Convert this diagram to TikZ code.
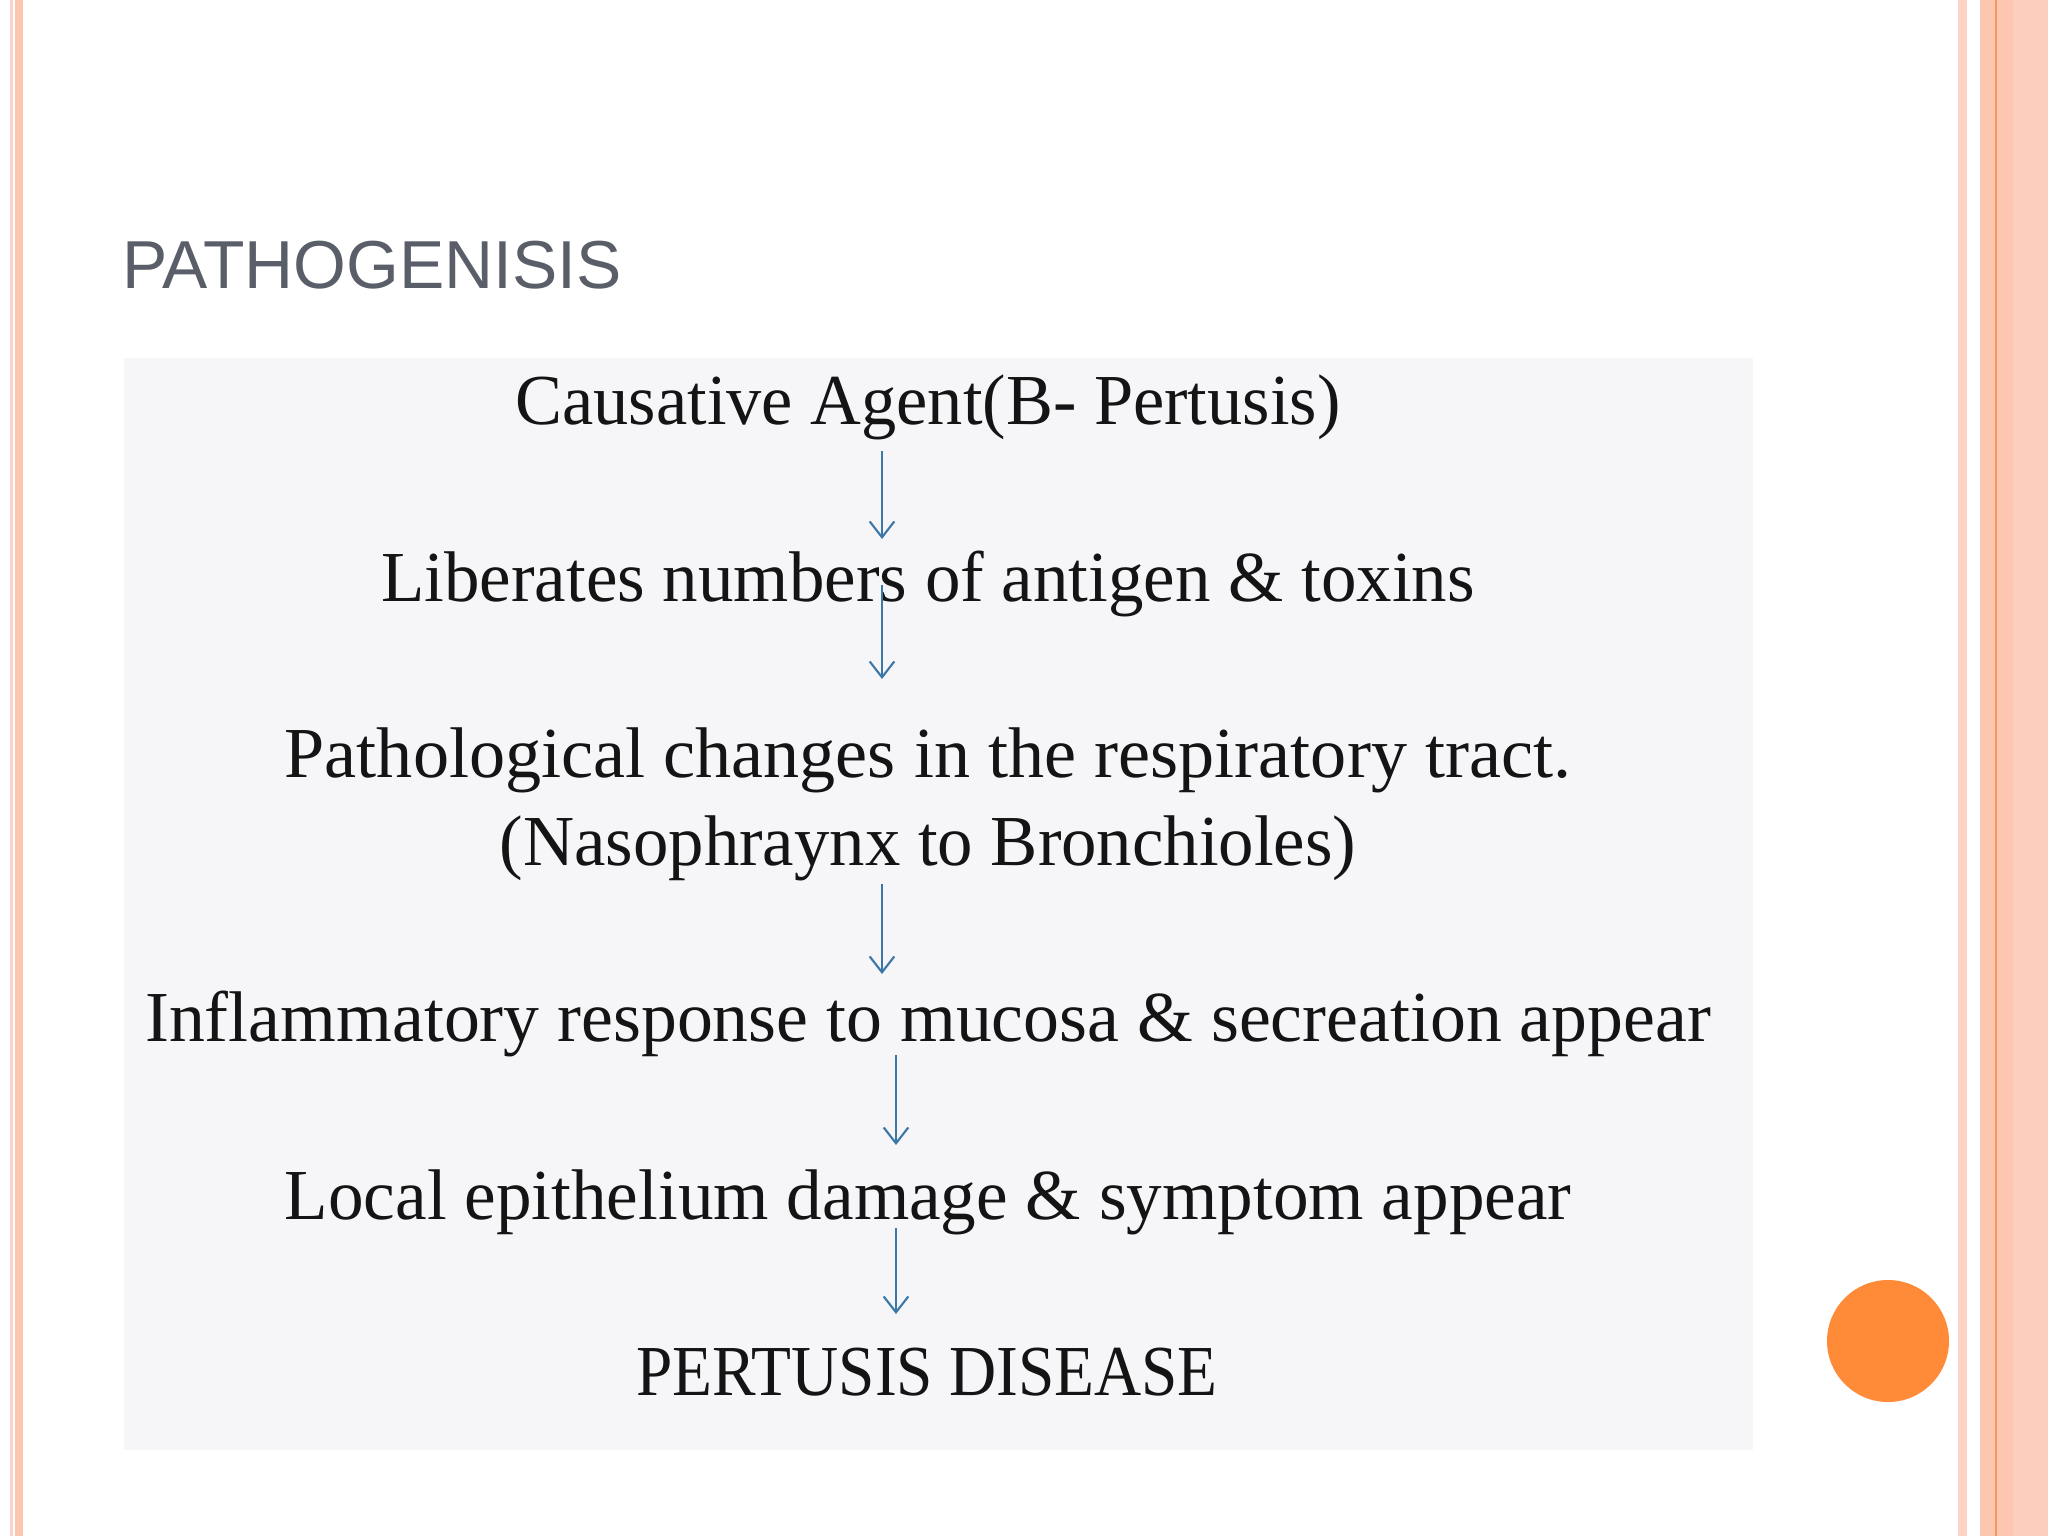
\documentclass[tikz,border=0pt]{standalone}
\usepackage{fontspec}
\usepackage{graphicx}
\setmainfont{Liberation Serif}
\newfontfamily\titlefont{Liberation Sans}
\usetikzlibrary{arrows.meta}
\definecolor{stripeA}{HTML}{FDC6B1}
\definecolor{stripeB}{HTML}{FBD4C6}
\definecolor{stripeLine}{HTML}{F5985E}
\definecolor{dotorange}{HTML}{FF8A38}
\definecolor{boxgray}{HTML}{F6F5F8}
\definecolor{titlegray}{HTML}{5A5E69}
\definecolor{arrowblue}{HTML}{3B78A8}
\newcommand{\hsq}[2]{\scalebox{#1}[1]{#2}}
\tikzset{
  steptext/.style={anchor=base, inner sep=0pt, text=black!92, font=\fontsize{20.4pt}{25pt}\selectfont, align=center},
  flowarrow/.style={draw=arrowblue, line width=0.6pt, -{Straight Barb[length=4.5pt,width=7pt]}}
}
\begin{document}
\begin{tikzpicture}[x=0.01cm, y=-0.01cm]
\useasboundingbox (0,0) rectangle (2048,1536);
\fill[white] (0,0) rectangle (2048,1536);
% borders
\fill[stripeB] (10,0) rectangle (13,1536);
\fill[stripeA] (15,0) rectangle (23,1536);
\fill[stripeB] (1958,0) rectangle (1967,1536);
\fill[stripeA] (1980,0) rectangle (2048,1536);
\fill[stripeB!60!stripeA] (2013,0) rectangle (2048,1536);
\fill[stripeLine] (1995,0) rectangle (1997,1536);
% dot
\fill[dotorange] (1888,1341) circle (61);
% title
\node[anchor=base west, inner sep=0pt, text=titlegray, font=\titlefont\fontsize{19.3pt}{22pt}\selectfont] (title) at (122,288) {PATHOGENISIS};
% box
\fill[boxgray] (124,358) rectangle (1753,1450);
% steps
\node[steptext] (n1) at (928,424) {\hsq{0.981}{Causative Agent(B- Pertusis)}};
\node[steptext] (n2) at (928,601) {\hsq{0.989}{Liberates numbers of antigen \& toxins}};
\node[steptext] (n3) at (928,777) {\hsq{1.006}{Pathological changes in the respiratory tract.}};
\node[steptext] (n3b) at (928,865) {\hsq{0.986}{(Nasophraynx to Bronchioles)}};
\node[steptext] (n4) at (928,1041) {Inflammatory response to mucosa \& secreation appear};
\node[steptext] (n5) at (928,1219) {\hsq{0.992}{Local epithelium damage \& symptom appear}};
\node[steptext] (n6) at (927,1395) {\hsq{0.91}{PERTUSIS DISEASE}};
% arrow ends
\coordinate (a1s) at (882,451); \coordinate (a1e) at (882,539);
\coordinate (a2s) at (882,585); \coordinate (a2e) at (882,679);
\coordinate (a3s) at (882,884); \coordinate (a3e) at (882,974);
\coordinate (a4s) at (896,1055); \coordinate (a4e) at (896,1145);
\coordinate (a5s) at (896,1228); \coordinate (a5e) at (896,1314);
\draw[flowarrow] (a1s) -- (a1e);
\draw[flowarrow] (a2s) -- (a2e);
\draw[flowarrow] (a3s) -- (a3e);
\draw[flowarrow] (a4s) -- (a4e);
\draw[flowarrow] (a5s) -- (a5e);
\end{tikzpicture}
\end{document}
